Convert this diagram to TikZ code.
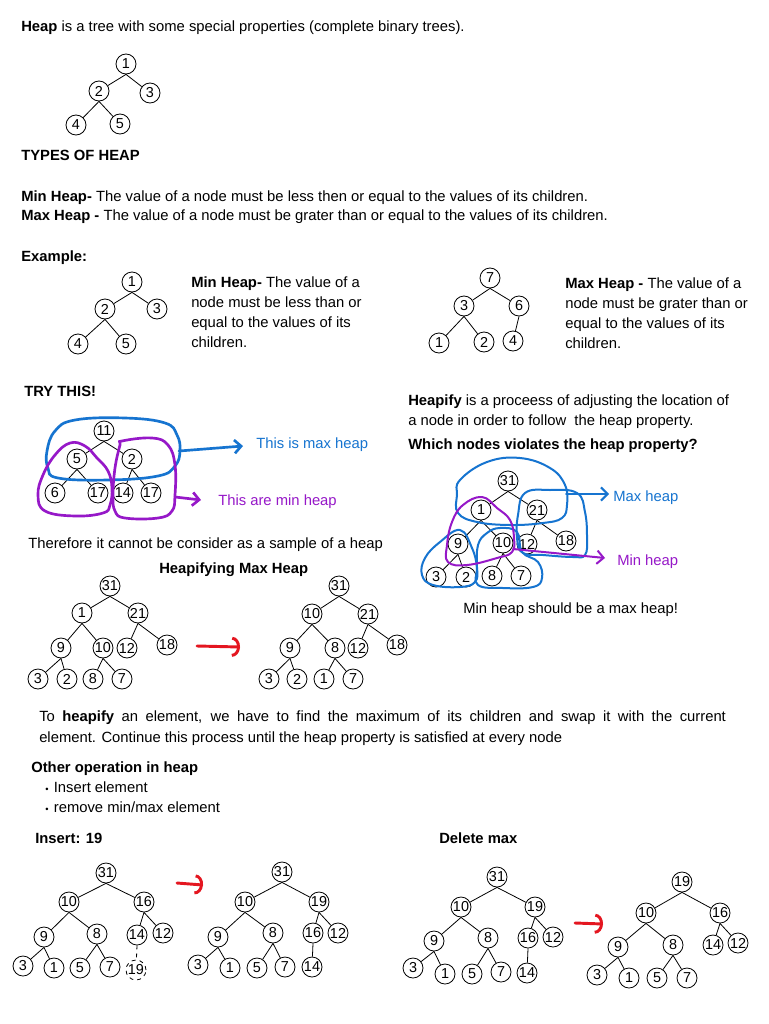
\documentclass[tikz,border=0pt]{standalone}
\usepackage{fontspec}
\setmainfont{Liberation Sans}
\usetikzlibrary{arrows.meta}
\definecolor{LoopBlue}{RGB}{22, 116, 208}
\definecolor{LoopPurple}{RGB}{150, 24, 200}
\definecolor{SwapRed}{RGB}{228, 22, 32}

\begin{document}
\begin{tikzpicture}[
            x=0.75pt, y=-0.75pt,
            hnode/.style={circle, draw, line width=0.6pt, minimum size=15pt,
                          inner sep=0pt, font=\fontsize{10.8}{12}\selectfont},
            hedge/.style={line width=0.6pt},
            txt/.style={anchor=base west, inner sep=0pt, align=left,
                        font=\fontsize{11.1}{15}\selectfont},
            maxloop/.style={LoopBlue, line width=2pt, line cap=round, line join=round},
            minloop/.style={LoopPurple, line width=2pt, line cap=round, line join=round},
            pointer/.style={-{Straight Barb[length=5pt, width=10pt]}},
            swaparrow/.style={SwapRed, line width=2.2pt, line cap=round,
                              -{Arc Barb[length=6pt, width=15pt]}}
        ]
            \fill[white] (0, 0) rectangle (768, 1024);
            \useasboundingbox (0, 0) rectangle (768, 1024);

            % definitions
            \node[txt] (intro) at (21, 31.5)
                {\textbf{Heap} is a tree with some special properties (complete binary trees).};
            \node[hnode] (a1) at (126, 64) {1};
            \node[hnode] (a2) at (99, 91) {2};
            \node[hnode] (a3) at (150, 93) {3};
            \node[hnode] (a4) at (76, 125) {4};
            \node[hnode] (a5) at (120, 124) {5};
            \draw[hedge] (a1.south) -- (a2);
            \draw[hedge] (a1.south) -- (a3);
            \draw[hedge] (a2.south) -- (a4);
            \draw[hedge] (a2.south) -- (a5);

            \node[txt] (types) at (21, 160.5) {\textbf{TYPES OF HEAP}};
            \node[txt] (mindef) at (21, 201.5)
                {\textbf{Min Heap-} The value of a node must be less then or equal to the values of its children.};
            \node[txt] (maxdef) at (21, 220.5)
                {\textbf{Max Heap -} The value of a node must be grater than or equal to the values of its children.};
            \node[txt] (example) at (21, 261.5) {\textbf{Example:}};

            % min heap example
            \node[hnode] (b1) at (132, 282) {1};
            \node[hnode] (b2) at (105, 309) {2};
            \node[hnode] (b3) at (157, 309) {3};
            \node[hnode] (b4) at (78, 344) {4};
            \node[hnode] (b5) at (126, 344) {5};
            \draw[hedge] (b1.south) -- (b2);
            \draw[hedge] (b1.south) -- (b3);
            \draw[hedge] (b2.south) -- (b4);
            \draw[hedge] (b2.south) -- (b5);
            \node[txt] (mintxt) at (191, 347.5)
                {\textbf{Min Heap-} The value of a\\ node must be less than or\\
                 equal to the values of its\\ children.};

            % max heap example
            \node[hnode] (c1) at (490, 278) {7};
            \node[hnode] (c2) at (464, 306) {3};
            \node[hnode] (c3) at (519, 306) {6};
            \node[hnode] (c4) at (439, 343) {1};
            \node[hnode] (c5) at (484, 342) {2};
            \node[hnode] (c6) at (513, 341) {4};
            \draw[hedge] (c1.south) -- (c2);
            \draw[hedge] (c1.south) -- (c3);
            \draw[hedge] (c2.south) -- (c4);
            \draw[hedge] (c2.south) -- (c5);
            \draw[hedge] (c3.south) -- (c6);
            \node[txt] (maxtxt) at (565, 348.5)
                {\textbf{Max Heap -} The value of a\\ node must be grater than or\\
                 equal to the values of its\\ children.};

            % try this
            \node[txt] (try) at (24, 396.5) {\textbf{TRY THIS!}};
            \node[hnode] (d1) at (104, 431) {11};
            \node[hnode] (d2) at (77, 459) {5};
            \node[hnode] (d3) at (132, 459) {2};
            \node[hnode] (d4) at (55, 493) {6};
            \node[hnode] (d5) at (98, 493) {17};
            \node[hnode] (d6) at (123, 493) {14};
            \node[hnode] (d7) at (151, 493) {17};
            \draw[hedge] (d1.south) -- (d2);
            \draw[hedge] (d1.south) -- (d3);
            \draw[hedge] (d2.south) -- (d4);
            \draw[hedge] (d2.south) -- (d5);
            \draw[hedge] (d3.south) -- (d6);
            \draw[hedge] (d3.south) -- (d7);
            \draw[maxloop] plot[smooth cycle, tension=0.7] coordinates {
                (75,420) (125,418) (165,423) (177,435) (180,451) (175,466)
                (158,476) (108,480) (58,478) (48,468) (47,451) (55,431)};
            \draw[minloop] plot[smooth cycle, tension=0.7] coordinates {
                (70,443) (85,446) (97,458) (108,471) (112,488) (110,505)
                (103,513) (75,516) (45,511) (38,495) (43,475) (55,455)};
            \draw[minloop] plot[smooth cycle, tension=0.7] coordinates {
                (122,441) (152,438) (168,445) (175,465) (175,495) (172,511)
                (158,518) (125,518) (115,511) (113,495) (115,468) (120,445)};
            \coordinate (tb1) at (179, 451);
            \coordinate (tb2) at (243, 446);
            \coordinate (tp1) at (175, 497);
            \coordinate (tp2) at (201, 500);
            \draw[maxloop, pointer] (tb1) -- (tb2);
            \draw[minloop, pointer] (tp1) -- (tp2);
            \node[txt, LoopBlue] (maxnote) at (256, 448.5) {This is max heap};
            \node[txt, LoopPurple] (minnote) at (218, 505.5) {This are min heap};
            \node[txt] (therefore) at (28, 548.5)
                {Therefore it cannot be consider as a sample of a heap};

            % heapify
            \node[txt] (heapify) at (408, 425.5)
                {\textbf{Heapify} is a proceess of adjusting the location of\\
                 a node in order to follow\ \ the heap property.};
            \node[txt] (which) at (408, 449.5) {\textbf{Which nodes violates the heap property?}};
            \node[hnode] (e1) at (508, 481) {31};
            \node[hnode] (e2) at (481, 510) {1};
            \node[hnode] (e3) at (537, 510) {21};
            \node[hnode] (e4) at (458, 544) {9};
            \node[hnode] (e5) at (503, 543) {10};
            \node[hnode] (e6) at (527, 544) {12};
            \node[hnode] (e7) at (566, 541) {18};
            \node[hnode] (e8) at (436, 577) {3};
            \node[hnode] (e9) at (466, 577) {2};
            \node[hnode] (e10) at (492, 576) {8};
            \node[hnode] (e11) at (521, 576) {7};
            \draw[hedge] (e1.south) -- (e2);
            \draw[hedge] (e1.south) -- (e3);
            \draw[hedge] (e2.south) -- (e4);
            \draw[hedge] (e2.south) -- (e5);
            \draw[hedge] (e3.south) -- (e6);
            \draw[hedge] (e3.south) -- (e7);
            \draw[hedge] (e4.south) -- (e8);
            \draw[hedge] (e4.south) -- (e9);
            \draw[hedge] (e5.south) -- (e10);
            \draw[hedge] (e5.south) -- (e11);
            \draw[maxloop, line width=1.5pt] plot[smooth cycle, tension=0.7] coordinates {
                (460,480) (487,462) (520,458) (550,468) (565,485) (567,505)
                (562,518) (543,523) (510,525) (477,522) (458,513) (457,495)};
            \draw[maxloop, line width=1.5pt] plot[smooth cycle, tension=0.7] coordinates {
                (525,493) (550,490) (577,493) (585,512) (587,538) (585,555)
                (573,557) (543,555) (523,553) (517,538) (518,515)};
            \draw[maxloop, line width=1.5pt] plot[smooth cycle, tension=0.7] coordinates {
                (460,530) (472,548) (477,568) (475,582) (460,587) (433,585)
                (422,575) (425,558) (440,542)};
            \draw[maxloop, line width=1.5pt] plot[smooth cycle, tension=0.7] coordinates {
                (500,528) (517,532) (522,552) (538,562) (542,578) (533,587)
                (503,588) (478,585) (477,568) (478,545) (487,533)};
            \draw[minloop, line width=1.5pt] plot[smooth cycle, tension=0.7] coordinates {
                (482,497) (497,508) (510,520) (514,538) (512,552) (497,558)
                (467,565) (448,562) (447,545) (452,522) (463,505)};
            \coordinate (hb1) at (566, 494);
            \coordinate (hb2) at (609, 494);
            \coordinate (hp1) at (513, 549);
            \coordinate (hp2) at (605, 558);
            \draw[maxloop, line width=1.5pt, pointer] (hb1) -- (hb2);
            \draw[minloop, line width=1.5pt, pointer] (hp1) -- (hp2);
            \node[txt, LoopBlue] (maxlabel) at (613, 501.5) {Max heap};
            \node[txt, LoopPurple] (minlabel) at (617, 565.5) {Min heap};
            \node[txt] (should) at (463, 613.5) {Min heap should be a max heap!};

            % heapifying max heap
            \node[txt] (heapifying) at (159, 573.5) {\textbf{Heapifying Max Heap}};
            \node[hnode] (f1) at (110, 586) {31};
            \node[hnode] (f2) at (82, 613) {1};
            \node[hnode] (f3) at (138, 613) {21};
            \node[hnode] (f4) at (61, 648) {9};
            \node[hnode] (f5) at (103, 648) {10};
            \node[hnode] (f6) at (127, 648) {12};
            \node[hnode] (f7) at (167, 645) {18};
            \node[hnode] (f8) at (38, 679) {3};
            \node[hnode] (f9) at (67, 679) {2};
            \node[hnode] (f10) at (93, 679) {8};
            \node[hnode] (f11) at (122, 679) {7};
            \draw[hedge] (f1.south) -- (f2);
            \draw[hedge] (f1.south) -- (f3);
            \draw[hedge] (f2.south) -- (f4);
            \draw[hedge] (f2.south) -- (f5);
            \draw[hedge] (f3.south) -- (f6);
            \draw[hedge] (f3.south) -- (f7);
            \draw[hedge] (f4.south) -- (f8);
            \draw[hedge] (f4.south) -- (f9);
            \draw[hedge] (f5.south) -- (f10);
            \draw[hedge] (f5.south) -- (f11);
            \coordinate (fr1) at (197, 646);
            \coordinate (fr2) at (240, 647);
            \draw[swaparrow] (fr1) -- (fr2);
            \node[hnode] (g1) at (339, 586) {31};
            \node[hnode] (g2) at (312, 614) {10};
            \node[hnode] (g3) at (368, 614) {21};
            \node[hnode] (g4) at (290, 648) {9};
            \node[hnode] (g5) at (335, 648) {8};
            \node[hnode] (g6) at (358, 648) {12};
            \node[hnode] (g7) at (397, 645) {18};
            \node[hnode] (g8) at (269, 679) {3};
            \node[hnode] (g9) at (297, 679) {2};
            \node[hnode] (g10) at (324, 679) {1};
            \node[hnode] (g11) at (353, 679) {7};
            \draw[hedge] (g1.south) -- (g2);
            \draw[hedge] (g1.south) -- (g3);
            \draw[hedge] (g2.south) -- (g4);
            \draw[hedge] (g2.south) -- (g5);
            \draw[hedge] (g3.south) -- (g6);
            \draw[hedge] (g3.south) -- (g7);
            \draw[hedge] (g4.south) -- (g8);
            \draw[hedge] (g4.south) -- (g9);
            \draw[hedge] (g5.south) -- (g10);
            \draw[hedge] (g5.south) -- (g11);

            \node[txt, align=justify, text width=515pt, font=\fontsize{11.1}{15.75}\selectfont]
                (howto) at (39, 721.5)
                {To \textbf{heapify} an element, we have to find the maximum of its children
                 and swap it with the current\linebreak element. Continue this process until
                 the heap property is satisfied at every node};

            \node[txt] (ops) at (31, 772.5) {\textbf{Other operation in heap}};
            \node[txt] (op1) at (45, 792.5) {{\scriptsize\textbullet}\hspace{4pt}Insert element};
            \node[txt] (op2) at (45, 812.5) {{\scriptsize\textbullet}\hspace{4pt}remove min/max element};

            % insert
            \node[txt] (insert) at (35, 843.5) {\textbf{Insert: 19}};
            \node[hnode] (h1) at (106, 873) {31};
            \node[hnode] (h2) at (69, 902) {10};
            \node[hnode] (h3) at (144, 902) {16};
            \node[hnode] (h4) at (44, 937) {9};
            \node[hnode] (h5) at (97, 934) {8};
            \node[hnode] (h6) at (137, 935) {14};
            \node[hnode] (h7) at (163, 933) {12};
            \node[hnode] (h8) at (23, 966) {3};
            \node[hnode] (h9) at (54, 968) {1};
            \node[hnode] (h10) at (80, 968) {5};
            \node[hnode] (h11) at (110, 967) {7};
            \node[hnode, dashed] (h12) at (136, 970) {19};
            \draw[hedge] (h1.south) -- (h2);
            \draw[hedge] (h1.south) -- (h3);
            \draw[hedge] (h2.south) -- (h4);
            \draw[hedge] (h2.south) -- (h5);
            \draw[hedge] (h3.south) -- (h6);
            \draw[hedge] (h3.south) -- (h7);
            \draw[hedge] (h4.south) -- (h8);
            \draw[hedge] (h4.south) -- (h9);
            \draw[hedge] (h5.south) -- (h10);
            \draw[hedge] (h5.south) -- (h11);
            \draw[hedge, dashed] (h6.south) -- (h12);
            \coordinate (hr1) at (177, 883);
            \coordinate (hr2) at (203, 885);
            \draw[swaparrow] (hr1) -- (hr2);
            \node[hnode] (i1) at (282, 872) {31};
            \node[hnode] (i2) at (245, 902) {10};
            \node[hnode] (i3) at (319, 902) {19};
            \node[hnode] (i4) at (218, 937) {9};
            \node[hnode] (i5) at (273, 933) {8};
            \node[hnode] (i6) at (313, 933) {16};
            \node[hnode] (i7) at (338, 933) {12};
            \node[hnode] (i8) at (198, 965) {3};
            \node[hnode] (i9) at (230, 968) {1};
            \node[hnode] (i10) at (257, 968) {5};
            \node[hnode] (i11) at (285, 967) {7};
            \node[hnode] (i12) at (312, 967) {14};
            \draw[hedge] (i1.south) -- (i2);
            \draw[hedge] (i1.south) -- (i3);
            \draw[hedge] (i2.south) -- (i4);
            \draw[hedge] (i2.south) -- (i5);
            \draw[hedge] (i3.south) -- (i6);
            \draw[hedge] (i3.south) -- (i7);
            \draw[hedge] (i4.south) -- (i8);
            \draw[hedge] (i4.south) -- (i9);
            \draw[hedge] (i5.south) -- (i10);
            \draw[hedge] (i5.south) -- (i11);
            \draw[hedge] (i6.south) -- (i12);

            % delete max
            \node[txt] (delete) at (439, 843.5) {\textbf{Delete max}};
            \node[hnode] (j1) at (497, 877) {31};
            \node[hnode] (j2) at (461, 907) {10};
            \node[hnode] (j3) at (535, 907) {19};
            \node[hnode] (j4) at (434, 941) {9};
            \node[hnode] (j5) at (488, 938) {8};
            \node[hnode] (j6) at (528, 938) {16};
            \node[hnode] (j7) at (553, 937) {12};
            \node[hnode] (j8) at (413, 968) {3};
            \node[hnode] (j9) at (445, 974) {1};
            \node[hnode] (j10) at (472, 974) {5};
            \node[hnode] (j11) at (501, 972) {7};
            \node[hnode] (j12) at (527, 973) {14};
            \draw[hedge] (j1.south) -- (j2);
            \draw[hedge] (j1.south) -- (j3);
            \draw[hedge] (j2.south) -- (j4);
            \draw[hedge] (j2.south) -- (j5);
            \draw[hedge] (j3.south) -- (j6);
            \draw[hedge] (j3.south) -- (j7);
            \draw[hedge] (j4.south) -- (j8);
            \draw[hedge] (j4.south) -- (j9);
            \draw[hedge] (j5.south) -- (j10);
            \draw[hedge] (j5.south) -- (j11);
            \draw[hedge] (j6.south) -- (j12);
            \coordinate (jr1) at (575, 923);
            \coordinate (jr2) at (603, 924);
            \draw[swaparrow] (jr1) -- (jr2);
            \node[hnode] (k1) at (682, 882) {19};
            \node[hnode] (k2) at (646, 913) {10};
            \node[hnode] (k3) at (720, 913) {16};
            \node[hnode] (k4) at (618, 947) {9};
            \node[hnode] (k5) at (673, 945) {8};
            \node[hnode] (k6) at (713, 945) {14};
            \node[hnode] (k7) at (738, 943) {12};
            \node[hnode] (k8) at (597, 975) {3};
            \node[hnode] (k9) at (629, 978) {1};
            \node[hnode] (k10) at (657, 978) {5};
            \node[hnode] (k11) at (687, 978) {7};
            \draw[hedge] (k1.south) -- (k2);
            \draw[hedge] (k1.south) -- (k3);
            \draw[hedge] (k2.south) -- (k4);
            \draw[hedge] (k2.south) -- (k5);
            \draw[hedge] (k3.south) -- (k6);
            \draw[hedge] (k3.south) -- (k7);
            \draw[hedge] (k4.south) -- (k8);
            \draw[hedge] (k4.south) -- (k9);
            \draw[hedge] (k5.south) -- (k10);
            \draw[hedge] (k5.south) -- (k11);
        \end{tikzpicture}
\end{document}
